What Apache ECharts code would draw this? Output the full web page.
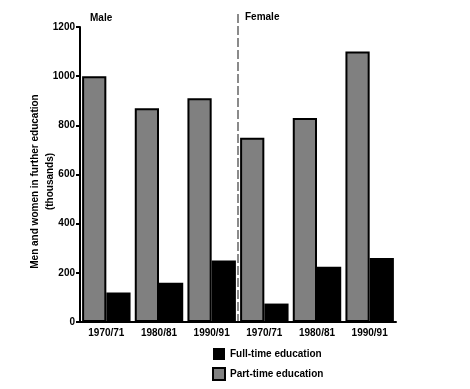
<!DOCTYPE html>
<html><head><meta charset="utf-8">
<script src="https://cdn.jsdelivr.net/npm/echarts@6/dist/echarts.min.js"></script>
<style>html,body{margin:0;padding:0;background:#fff}#c{width:470px;height:389px}</style>
</head><body><div id="c"></div>
<script>
const groups = ['Male', 'Female'];
const years = ['1970/71', '1980/81', '1990/91'];
const partTime = [1000, 870, 910, 750, 830, 1100];
const fullTime = [120, 160, 250, 75, 225, 260];
const yTicks = [0, 200, 400, 600, 800, 1000, 1200];

const categories = [];
groups.forEach(g => years.forEach(y => categories.push(g + '|' + y)));

const font = 'Liberation Sans, Arial, sans-serif';
const chart = echarts.init(document.getElementById('c'), null, {renderer: 'canvas'});
chart.setOption({
  animation: false,
  backgroundColor: '#fff',
  grid: {left: 80, right: 74, top: 27, bottom: 67},
  legend: {
    orient: 'vertical', left: 207, top: 343, itemWidth: 12, itemHeight: 12, itemGap: 7,
    icon: 'rect',
    data: ['Full-time education', 'Part-time education'],
    textStyle: {fontFamily: font, fontWeight: 'bold', fontSize: 10, color: '#000'}
  },
  xAxis: {
    type: 'category', data: categories,
    axisLine: {lineStyle: {color: '#000', width: 2}},
    axisTick: {show: false},
    axisLabel: {formatter: v => v.split('|')[1], fontFamily: font, fontWeight: 'bold', fontSize: 10, color: '#000', margin: 6}
  },
  yAxis: {
    type: 'value', min: yTicks[0], max: yTicks[yTicks.length - 1], interval: 200,
    name: 'Men and women in further education\n(thousands)',
    nameLocation: 'middle', nameGap: 22, nameRotate: 90, nameMoveOverlap: false,
    nameTextStyle: {fontFamily: font, fontWeight: 'bold', fontSize: 10, color: '#000', lineHeight: 15, padding: [0, 14, 0, 0]},
    axisLine: {show: true, lineStyle: {color: '#000', width: 2}},
    axisTick: {show: true, length: 4, lineStyle: {color: '#000', width: 2}},
    splitLine: {show: false},
    axisLabel: {formatter: v => String(v), fontFamily: font, fontWeight: 'bold', fontSize: 10, color: '#000', margin: 5}
  },
  series: [
    {name: 'Part-time education', type: 'bar', data: partTime, barGap: '0%', barCategoryGap: '8%',
     itemStyle: {color: '#808080', borderColor: '#000', borderWidth: 2}},
    {name: 'Full-time education', type: 'bar', data: fullTime,
     itemStyle: {color: '#000', borderWidth: 0}}
  ]
});
const x2 = chart.convertToPixel({xAxisIndex: 0}, categories[2]);
const x3 = chart.convertToPixel({xAxisIndex: 0}, categories[3]);
const xm = (x2 + x3) / 2;
const y0 = chart.convertToPixel({yAxisIndex: 0}, 0);
chart.setOption({
  graphic: [
    {type: 'line', shape: {x1: xm, y1: 14, x2: xm, y2: y0}, style: {stroke: '#8a8a8a', lineWidth: 2, lineDash: [9, 3]}},
    {type: 'text', left: 90, top: 13, style: {text: groups[0], font: 'bold 10px ' + font, fill: '#000'}},
    {type: 'text', left: xm + 7, top: 12, style: {text: groups[1], font: 'bold 10px ' + font, fill: '#000'}}
  ]
});
</script></body></html>
